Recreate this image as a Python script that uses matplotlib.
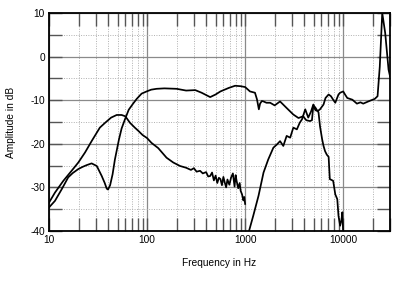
import matplotlib
matplotlib.use("Agg")
import matplotlib.pyplot as plt
from matplotlib.ticker import FixedLocator, NullFormatter, FixedFormatter

# Woofer (no notch)
woof_f = [10, 11.5, 14, 17, 19.9, 23.3, 27.2, 33, 37.3, 43, 49, 55, 60, 67, 75, 82, 90, 100,
          111, 130, 158, 185, 217, 250, 280, 300, 320, 347, 370, 400, 420, 440, 460, 480,
          500, 520, 540, 560, 580, 600, 620, 640, 660, 690, 720, 750, 780, 800, 820, 850,
          880, 900, 930, 960, 980, 1000]
woof_db = [-33.5, -31.2, -28.5, -26.2, -24.3, -22.0, -19.4, -16.3, -15.2, -14.0, -13.4, -13.4,
           -13.7, -15.2, -16.3, -17.1, -18.0, -18.7, -19.8, -21.0, -23.2, -24.3, -25.1, -25.5,
           -26.0, -25.6, -26.4, -26.2, -26.8, -26.5, -27.5, -27.4, -26.6, -28.4, -27.3, -29.0,
           -27.8, -28.1, -29.5, -27.6, -28.9, -30.0, -28.2, -29.4, -27.7, -26.8, -29.8, -27.2,
           -28.6, -30.2, -29.0, -30.8, -31.6, -33.0, -32.2, -33.8]

# Midrange / woofer with notch
mid_f = [10, 11.5, 13.5, 15.7, 17.5, 19.9, 22, 24.2, 27.2, 30.7, 34.5, 37, 38.8, 40, 42,
         44.5, 47, 51.7, 55, 59.5, 65, 72, 78.5, 88, 99, 110, 125, 150, 200, 250, 310, 360,
         440, 500, 560, 680, 790, 900, 1000, 1120, 1260, 1320, 1380, 1420, 1480, 1540, 1650,
         1800, 2000, 2270, 2650, 3100, 3500, 3900, 4200, 4580, 4800, 4960, 5200, 5400, 5600,
         5800, 6100, 6300, 6530, 6800, 7100, 7300, 7600, 7900, 8300, 8700, 8950, 9300, 9600,
         9800, 10000]
mid_db = [-34.6, -33.1, -30.4, -27.7, -26.7, -25.8, -25.3, -24.9, -24.5, -25.1, -27.4, -29.0,
          -30.3, -30.5, -29.5, -27.0, -23.6, -19.0, -16.5, -14.4, -12.2, -10.8, -9.7, -8.5,
          -8.0, -7.6, -7.4, -7.3, -7.4, -7.8, -7.7, -8.3, -9.3, -8.7, -8.0, -7.2, -6.7, -6.8,
          -7.0, -8.0, -8.3, -9.8, -12.1, -10.8, -10.2, -10.3, -10.6, -10.6, -11.2, -10.3,
          -11.8, -13.3, -14.1, -13.7, -14.6, -14.8, -14.6, -11.2, -11.7, -12.3, -12.8, -16.0,
          -19.0, -20.5, -21.7, -22.5, -23.0, -28.1, -28.3, -28.5, -31.6, -32.7, -36.5, -38.8,
          -37.5, -35.7, -40.5]

# Tweeter
tw_f = [1080, 1210, 1370, 1540, 1720, 1940, 2100, 2270, 2450, 2650, 2880, 3100, 3370, 3600,
        3800, 4100, 4400, 4700, 4960, 5200, 5500, 5800, 6300, 6600, 7100, 7500, 7900, 8300,
        8950, 9300, 10000, 10500, 11000, 12400, 13800, 15000, 16000, 18000, 21000, 22400,
        23600, 25000, 26800, 29000, 30000]
tw_db = [-40.5, -36.5, -31.9, -26.6, -23.6, -20.9, -20.2, -19.4, -20.5, -18.2, -18.6, -16.3,
         -16.7, -15.2, -14.4, -12.1, -14.0, -12.6, -11.0, -12.3, -12.5, -12.1, -11.0, -9.5,
         -8.7, -9.1, -9.9, -10.6, -8.7, -8.3, -8.0, -8.8, -9.5, -9.9, -10.8, -10.5, -10.8,
         -10.3, -9.7, -9.1, -2.3, 10.0, 5.4, -3.0, -4.5]

x_major = [10, 100, 1000, 10000]
x_labels = ["10", "100", "1000", "10000"]
y_major = [-40, -30, -20, -10, 0, 10]
y_labels = ["-40", "-30", "-20", "-10", "0", "10"]

plt.rcParams['font.family'] = ['Liberation Sans', 'DejaVu Sans']

fig = plt.figure(figsize=(4.0, 2.81), dpi=100)
ax = fig.add_axes([0.1225, 0.178, 0.8525, 0.776])
ax.set_xscale('log')
ax.set_xlim(10, 30000)
ax.set_ylim(-40, 10)

x_minor = [m * d for d in [10, 100, 1000, 10000] for m in range(2, 10) if m * d <= 30000]
y_minor = [-35, -25, -15, -5, 5]

ax.xaxis.set_major_locator(FixedLocator(x_major))
ax.xaxis.set_major_formatter(FixedFormatter(x_labels))
ax.xaxis.set_minor_locator(FixedLocator(x_minor))
ax.xaxis.set_minor_formatter(NullFormatter())
ax.yaxis.set_major_locator(FixedLocator(y_major))
ax.yaxis.set_major_formatter(FixedFormatter(y_labels))
ax.yaxis.set_minor_locator(FixedLocator(y_minor))

ax.grid(which='major', color='#8a8a8a', linestyle='-', linewidth=0.9)
ax.grid(which='minor', color='#b0b0b0', linestyle=(0, (1, 1.5)), linewidth=0.7)
ax.set_axisbelow(True)

ax.tick_params(which='both', direction='in', top=True, right=True, length=9.5,
               width=1.0, color='#555555', labelsize=7.3, pad=3)
for sp in ax.spines.values():
    sp.set_linewidth(1.3)
    sp.set_color('black')

lw = 1.25
ax.plot(woof_f, woof_db, color='black', lw=lw, clip_on=True)
ax.plot(mid_f, mid_db, color='black', lw=lw, clip_on=True)
ax.plot(tw_f, tw_db, color='black', lw=lw, clip_on=True)

ax.set_xlabel("Frequency in Hz", fontsize=7.3, labelpad=9)
ax.set_ylabel("Amplitude in dB", fontsize=7.3, labelpad=10)

fig.savefig("out.png", dpi=100)
